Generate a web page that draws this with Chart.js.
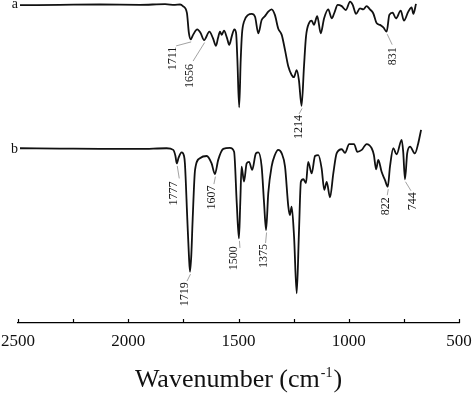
<!DOCTYPE html>
<html lang="en">
<head>
  <meta charset="UTF-8">
  <title>FTIR spectra</title>
  <script src="https://cdn.jsdelivr.net/npm/chart.js@4.4.0/dist/chart.umd.min.js"></script>
  <style>
    html, body { margin: 0; padding: 0; background: #fff; overflow: hidden; width: 474px; height: 395px; }
    #wrap { position: absolute; left: -30px; top: 0; }
  </style>
</head>
<body>
  <div id="wrap"><canvas id="myChart" width="534" height="395"></canvas></div>

  <script>
    // spectrum a (wavenumber in cm-1, transmittance in arbitrary %)
    const waveA = [2491, 2310, 2128, 1947, 1833, 1788, 1765, 1752, 1734, 1725, 1717, 1706, 1687, 1672, 1656, 1632, 1616, 1602, 1593, 1584,
      1576, 1566, 1552, 1542, 1530, 1519, 1511, 1505, 1497, 1490, 1484, 1475, 1456, 1440, 1425, 1410, 1395, 1380, 1365, 1350,
      1335, 1320, 1304, 1289, 1274, 1259, 1249, 1236, 1226, 1214, 1203, 1194, 1179, 1168, 1158, 1143, 1127, 1112, 1093, 1077,
      1066, 1050, 1032, 1013, 994, 982, 967, 949, 934, 919, 904, 889, 873, 858, 843, 828, 816, 801, 786, 764,
      750, 730, 715, 707, 695]
    const transA = [98.4, 98.5, 98.6, 98.5, 98.7, 98.5, 98.6, 98.1, 96.0, 89.8, 87.8, 89.2, 90.9, 89.8, 87.6, 90.2, 88.2, 85.8, 88.2, 90.2,
      89.2, 90.5, 88.2, 86.1, 88.9, 90.9, 89.8, 81.4, 66.8, 81.4, 89.7, 93.3, 95.4, 95.7, 94.8, 89.7, 93.8, 95.0, 96.4, 97.1,
      95.4, 91.2, 89.2, 84.5, 79.4, 76.8, 76.1, 78.3, 75.2, 67.2, 79.4, 88.6, 93.0, 93.6, 92.3, 95.0, 89.7, 94.3, 97.1, 94.3,
      95.9, 98.5, 98.1, 96.9, 99.5, 98.5, 95.7, 97.4, 97.1, 98.1, 97.1, 95.9, 92.8, 92.3, 91.5, 90.2, 95.4, 96.1, 94.3, 96.7,
      93.6, 96.4, 97.7, 95.7, 98.8]

    // spectrum b
    const waveB = [2491, 2310, 2128, 1947, 1826, 1796, 1786, 1780, 1772, 1758, 1747, 1743, 1732, 1725, 1720, 1714, 1708, 1697, 1675, 1644,
      1622, 1607, 1592, 1569, 1539, 1520, 1508, 1498, 1492, 1486, 1475, 1463, 1452, 1438, 1421, 1410, 1395, 1384, 1375, 1365,
      1350, 1335, 1320, 1304, 1289, 1274, 1267, 1259, 1248, 1236, 1226, 1217, 1206, 1194, 1184, 1168, 1153, 1138, 1123, 1111,
      1100, 1085, 1070, 1055, 1032, 1017, 998, 976, 961, 941, 919, 896, 886, 876, 866, 851, 836, 823, 813, 798,
      783, 760, 753, 745, 735, 722, 700, 685, 672]
    const transB = [54.1, 54.0, 53.9, 53.9, 54.1, 53.6, 51.7, 49.4, 51.1, 52.8, 51.7, 49.4, 31.9, 21.1, 15.9, 21.1, 31.9, 47.4, 51.0, 51.7,
      49.4, 46.1, 50.5, 53.9, 54.2, 53.0, 37.2, 26.2, 37.2, 48.4, 43.8, 49.4, 49.9, 47.4, 52.5, 52.8, 48.4, 37.1, 28.8, 40.2,
      48.4, 52.0, 53.6, 52.5, 48.4, 36.0, 33.4, 36.0, 26.7, 9.2, 27.8, 43.7, 44.5, 43.3, 49.9, 46.3, 51.7, 52.0, 47.9, 41.2,
      43.7, 38.9, 46.3, 52.5, 53.8, 52.7, 55.4, 55.4, 53.0, 53.6, 55.4, 54.1, 52.0, 47.6, 50.5, 46.8, 44.3, 42.2, 48.4, 54.1,
      52.2, 56.7, 53.0, 44.5, 52.5, 54.6, 52.5, 55.6, 59.8]

    // labelled bands
    const peaksA = [1711, 1656, 1214, 831]
    const peaksB = [1777, 1719, 1607, 1500, 1375, 822, 744]

    // label placement relative to the band minimum: [labelDx, labelDy, leaderDx, leaderDy]
    const offsA = [[-17.5, 19, -14.5, 6.5], [-14, 36, -11, 21], [-2.5, 21, -2.5, 8], [6.5, 24.5, 5.5, 13]]
    const offsB = [[-2.5, 30, 2.5, 15], [-5, 22.5, -3, 9.5], [-3.5, 23.5, -1, 10], [-5, 20, 1, 9.5],
      [-2.5, 26, -0.5, 13], [-1.5, 19.5, -0.5, 8.5], [7.5, 22, 6, 11.5]]

    const xMin = 500, xMax = 2500, xStep = 250

    const serif = '"Liberation Serif", "Times New Roman", serif'

    function toPoints(w, t) {
      return w.map((v, i) => ({ x: v, y: t[i] }))
    }

    function drawPeaks(ctx, xs, ys, wave, trans, peaks, offs) {
      peaks.forEach((p, k) => {
        let best = -1
        for (let i = 0; i < wave.length; i++) {
          if (Math.abs(wave[i] - p) <= 10 && (best < 0 || trans[i] < trans[best])) best = i
        }
        const px = xs.getPixelForValue(wave[best])
        const py = ys.getPixelForValue(trans[best])
        const o = offs[k]
        ctx.strokeStyle = '#8a8a8a'
        ctx.lineWidth = 0.8
        ctx.beginPath()
        ctx.moveTo(px + 0.5, py + 2.5)
        ctx.lineTo(px + o[2], py + o[3])
        ctx.stroke()
        ctx.save()
        ctx.translate(px + o[0], py + o[1])
        ctx.rotate(-Math.PI / 2)
        ctx.fillStyle = '#1a1a1a'
        ctx.font = '12px ' + serif
        ctx.textAlign = 'center'
        ctx.textBaseline = 'middle'
        ctx.fillText(String(p), 0, 0)
        ctx.restore()
      })
    }

    const spectrumDecor = {
      id: 'spectrumDecor',
      afterDatasetsDraw(chart) {
        const ctx = chart.ctx
        const xs = chart.scales.x, ys = chart.scales.y
        ctx.save()
        ctx.fillStyle = '#111'
        ctx.font = '14px ' + serif
        ctx.textAlign = 'right'
        ctx.textBaseline = 'middle'
        ctx.fillText('a', xs.getPixelForValue(waveA[0]) - 2, ys.getPixelForValue(transA[0]) - 1)
        ctx.fillText('b', xs.getPixelForValue(waveB[0]) - 2, ys.getPixelForValue(transB[0]) + 1)
        drawPeaks(ctx, xs, ys, waveA, transA, peaksA, offsA)
        drawPeaks(ctx, xs, ys, waveB, transB, peaksB, offsB)
        ctx.restore()
      },
      afterDraw(chart) {
        const ctx = chart.ctx
        const xs = chart.scales.x
        ctx.save()
        // inward tick marks
        ctx.strokeStyle = '#000'
        ctx.lineWidth = 1.2
        xs.ticks.forEach(t => {
          const px = Math.round(xs.getPixelForValue(t.value)) + 0.5
          ctx.beginPath()
          ctx.moveTo(px, xs.top)
          ctx.lineTo(px, xs.top - 4)
          ctx.stroke()
        })
        // axis title with superscript
        const main = 'Wavenumber (cm', sup = '-1', close = ')'
        const bigFont = '26px ' + serif, smallFont = '14px ' + serif
        ctx.font = bigFont
        const w1 = ctx.measureText(main).width, w3 = ctx.measureText(close).width
        ctx.font = smallFont
        const w2 = ctx.measureText(sup).width
        const total = w1 + w2 + w3 + 2
        let cx = (chart.chartArea.left + chart.chartArea.right) / 2 - total / 2
        const base = 387
        ctx.fillStyle = '#111'
        ctx.textAlign = 'left'
        ctx.textBaseline = 'alphabetic'
        ctx.font = bigFont
        ctx.fillText(main, cx, base)
        cx += w1 + 1
        ctx.font = smallFont
        ctx.fillText(sup, cx, base - 10)
        cx += w2 + 1
        ctx.font = bigFont
        ctx.fillText(close, cx, base)
        ctx.restore()
      }
    }

    const ctx = document.getElementById('myChart')
    const myChart = new Chart(ctx, {
      type: 'line',
      data: {
        datasets: [{
          label: 'a',
          data: toPoints(waveA, transA),
          borderColor: '#111',
          borderWidth: 1.8,
          pointRadius: 0,
          fill: false,
          cubicInterpolationMode: 'monotone'
        }, {
          label: 'b',
          data: toPoints(waveB, transB),
          borderColor: '#111',
          borderWidth: 1.8,
          pointRadius: 0,
          fill: false,
          cubicInterpolationMode: 'monotone'
        }]
      },
      options: {
        responsive: false,
        animation: false,
        devicePixelRatio: 1,
        layout: { padding: { left: 48, right: 45, top: 0, bottom: 0 } },
        plugins: { legend: { display: false }, tooltip: { enabled: false } },
        scales: {
          x: {
            type: 'linear',
            reverse: true,
            min: xMin,
            max: xMax,
            afterFit(scale) { scale.height = 72 },
            grid: { display: false, drawTicks: false },
            border: { display: true, color: '#000', width: 1.2 },
            ticks: {
              stepSize: xStep,
              autoSkip: false,
              maxRotation: 0,
              padding: 8,
              color: '#111',
              font: { family: serif, size: 17 },
              callback: v => (v % 500 === 0 ? String(v) : '')
            }
          },
          y: { display: false, min: 0, max: 100 }
        }
      },
      plugins: [spectrumDecor]
    })
  </script>
</body>
</html>
